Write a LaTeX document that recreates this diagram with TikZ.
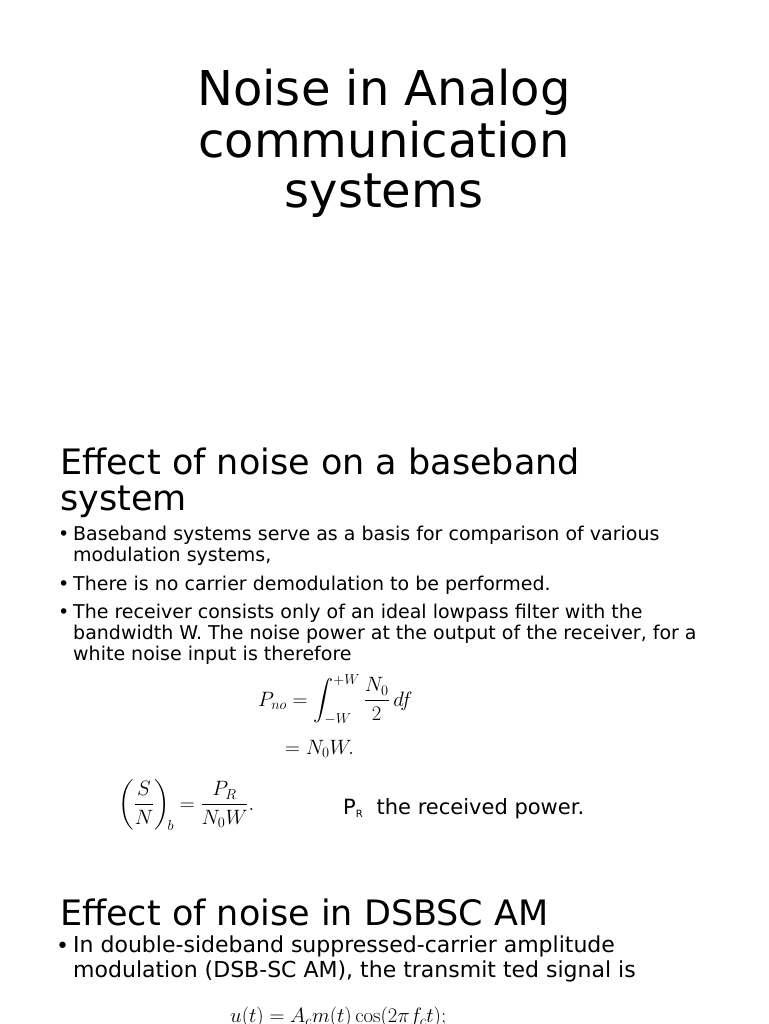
\documentclass[tikz,border=0pt]{standalone}
\usepackage{amsmath,amssymb}
\usepackage[no-math]{fontspec}
\setmainfont{DejaVu Sans}
\usepackage{tikz}
\usetikzlibrary{positioning}

\begin{document}
\begin{tikzpicture}[x=1pt, y=1pt,
    titletext/.style={font=\fontsize{48}{51}\selectfont, align=center, anchor=base, inner sep=0},
    headtext/.style={font=\fontsize{35}{36}\selectfont, align=left, anchor=base west, inner sep=0},
    bodytext/.style={font=\fontsize{19}{21}\selectfont, align=left, anchor=base west, inner sep=0},
    dotmark/.style={font=\fontsize{19}{21}\selectfont, anchor=base west, inner sep=0},
    mathtext/.style={font=\fontsize{21}{24}\selectfont, anchor=base west, inner sep=0}]
    \useasboundingbox (0,0) rectangle (768,-1024);

    % Title (base = last line)
    \node[titletext] (title) at (384,-208) {Noise in Analog\\communication\\systems};

    % Baseband section
    \node[headtext] (headone) at (60,-510) {Effect of noise on a baseband\\system};
    \node[dotmark] (dotone) at (58,-540) {•};
    \node[bodytext] (bulone) at (73,-561) {Baseband systems serve as a basis for comparison of various\\modulation systems,};
    \node[dotmark] (dottwo) at (58,-590) {•};
    \node[bodytext] (bultwo) at (73,-590) {There is no carrier demodulation to be performed.};
    \node[dotmark] (dotthree) at (58,-618) {•};
    \node[bodytext] (bulthree) at (73,-660) {The receiver consists only of an ideal lowpass filter with the\\bandwidth W. The noise power at the output of the receiver, for a\\white noise input is therefore};

    % Equations
    \node[mathtext, font=\fontsize{20}{24}\selectfont] (noisepow) at (258,-706) {$P_{no} = \displaystyle\int_{-W}^{+W} \frac{N_0}{2}\,df$};
    \node[mathtext] (noiseres) at (285,-754) {$= N_0 W.$};
    \node[mathtext] (snr) at (118,-810) {$\displaystyle\left(\frac{S}{N}\right)_{\!b} = \frac{P_R}{N_0 W}.$};
    \node[bodytext, font=\fontsize{21}{24}\selectfont] (recpow) at (343,-814) {P\textsubscript{\fontsize{10}{10}\selectfont R} \ the received power.};

    % DSBSC section
    \node[headtext] (headtwo) at (60,-925) {Effect of noise in DSBSC AM};
    \node[dotmark, font=\fontsize{22}{24}\selectfont] (dotfour) at (56,-953) {•};
    \node[bodytext, font=\fontsize{22}{24.5}\selectfont] (bulfour) at (73,-977) {In double-sideband suppressed-carrier amplitude\\modulation (DSB-SC AM), the transmit ted signal is};
    \node[mathtext] (modsig) at (230,-1022) {$u(t) = A_c m(t)\cos(2\pi f_c t);$};
\end{tikzpicture}
\end{document}
